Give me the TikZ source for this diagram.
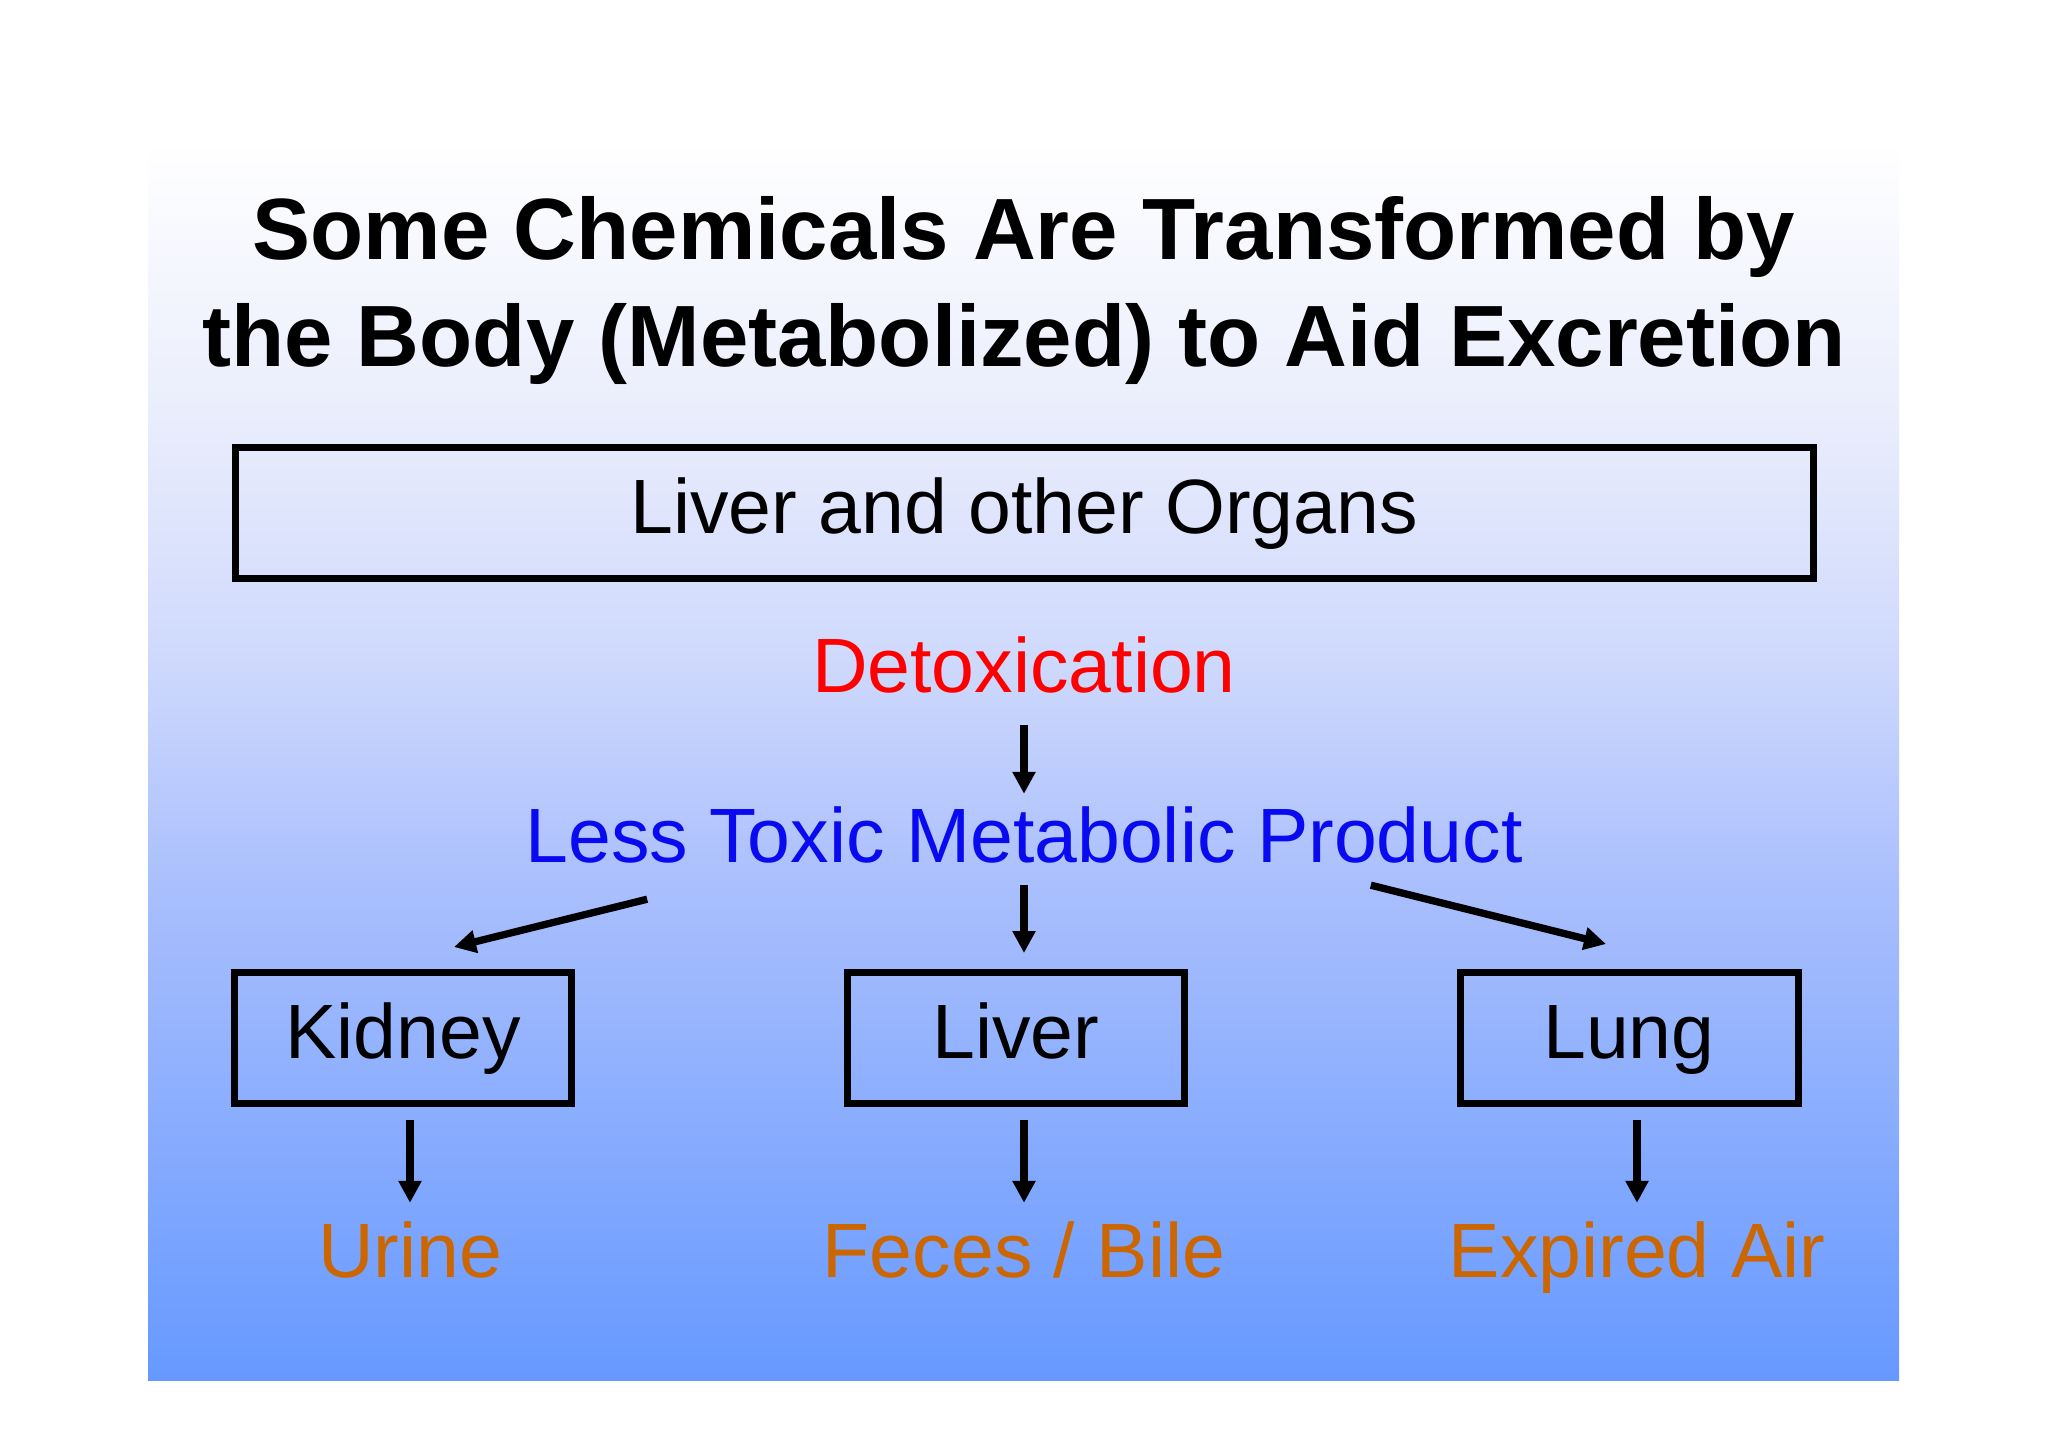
\documentclass[tikz,border=0pt]{standalone}
\usepackage{fontspec}
\setmainfont{Liberation Sans}
\usetikzlibrary{arrows.meta,calc}
\definecolor{bgbot}{RGB}{102,153,255}
\definecolor{bgcA}{RGB}{170,191,253}
\definecolor{bgcB}{RGB}{208,218,252}
\definecolor{bgcC}{RGB}{235,238,252}
\definecolor{detred}{RGB}{255,0,0}
\definecolor{prodblue}{RGB}{10,10,240}
\definecolor{exorange}{RGB}{204,102,0}
\pgfdeclareverticalshading{bggrad}{100bp}{color(0bp)=(bgbot); color(25bp)=(bgbot); color(45bp)=(bgcA); color(54.5bp)=(bgcB); color(64.5bp)=(bgcC); color(75bp)=(white); color(100bp)=(white)}
\begin{document}
\begin{tikzpicture}[x=1pt,y=-1pt,
  titletext/.style={inner sep=0pt, anchor=base, font=\bfseries\fontsize{87}{100}\selectfont},
  lbl/.style={inner sep=0pt, anchor=base, text height=56pt, text depth=16pt, font=\fontsize{77}{90}\selectfont},
  organbox/.style={draw=black, line width=7pt, inner sep=0pt, text height=56pt, text depth=16pt,
    font=\fontsize{77}{90}\selectfont, minimum height=131pt},
  arr/.style={line width=7.3pt, -{Triangle[length=22pt,width=22pt]}}]
\useasboundingbox (0,0) rectangle (2048,1448);
\fill[white] (0,0) rectangle (2048,1448);
\shade[shading=bggrad] (148,140) rectangle (1899,1380);

\node[titletext] (title1) at (1024,259) {Some Chemicals Are Transformed by};
\node[titletext] (title2) at (1024,366) {the Body (Metabolized) to Aid Excretion};

\node[organbox, minimum width=1578pt] (organs) at (1024,513) {Liver and other Organs};

\node[lbl, text=detred] (detox) at (1024,692) {Detoxication};
\node[lbl, text=prodblue] (less) at (1024,862) {Less Toxic Metabolic Product};

\node[organbox, minimum width=337pt] (kidney) at (403,1038) {Kidney};
\node[organbox, minimum width=337pt] (liver) at (1016,1038) {Liver\ };
\node[organbox, minimum width=338pt] (lung) at (1629,1038) {Lung\ };

\node[lbl, text=exorange] (urine) at (410,1277) {Urine};
\node[lbl, text=exorange] (feces) at (1024,1277) {Feces / Bile};
\node[lbl, text=exorange] (air) at (1637,1277) {Expired Air};

\draw[arr, shorten <=17pt, shorten >=12pt] (detox.south) -- (less.north);
\draw[arr, shorten <=7pt, shorten >=16pt] (less.south) -- (less.south |- liver.north);
\draw[arr] ($(less.south west)+(122,21)$) -- ($(kidney.north)+(51,-22)$);
\draw[arr] ($(less.south east)+(-152,7)$) -- ($(lung.north)+(-23,-25)$);

\draw[arr, shorten <=13pt, shorten >=18pt] (kidney.south -| urine) -- (urine.north);
\draw[arr, shorten <=13pt, shorten >=18pt] (liver.south -| feces) -- (feces.north);
\draw[arr, shorten <=13pt, shorten >=18pt] (lung.south -| air) -- (air.north);
\end{tikzpicture}
\end{document}
